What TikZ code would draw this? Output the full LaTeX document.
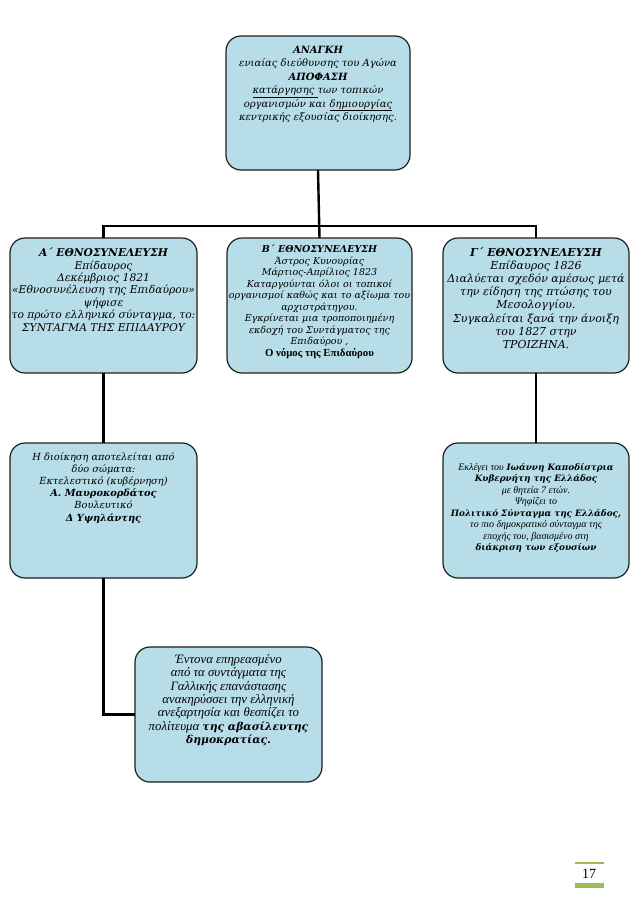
\documentclass[tikz,border=0pt]{standalone}
\usepackage{fontspec}
\setmainfont{DejaVu Serif}
\newfontfamily\tms{Liberation Serif}
\definecolor{boxfill}{RGB}{183,222,232}
\definecolor{boxline}{RGB}{30,30,30}
\definecolor{pggreen}{RGB}{155,187,89}
\tikzset{
  panel/.style={draw=boxline, line width=1.2pt, fill=boxfill, rounded corners=15pt, inner sep=0pt, outer sep=0pt, anchor=north west},
  conn/.style={draw=black, line width=2.4pt},
  txt/.style={anchor=north, align=center, inner sep=0pt},
}
\begin{document}
\begin{tikzpicture}[x=1pt,y=-1pt]
\useasboundingbox[fill=white] (0,0) rectangle (638,902);
% boxes
\node[panel, minimum width=184pt, minimum height=134pt] (T) at (226,36) {};
\node[panel, minimum width=187pt, minimum height=135pt] (A) at (10,238) {};
\node[panel, minimum width=185pt, minimum height=135pt] (B) at (227,238) {};
\node[panel, minimum width=186pt, minimum height=135pt] (C) at (443,238) {};
\node[panel, minimum width=187pt, minimum height=135pt] (L) at (10,443) {};
\node[panel, minimum width=186pt, minimum height=135pt] (R) at (443,443) {};
\node[panel, minimum width=187pt, minimum height=135pt] (D) at (135,647) {};
% connectors
\coordinate (hub) at (320,226);
\draw[conn] (T.south) -- (B.north);
\draw[conn] (A.north) -- (A.north |- hub) -- (C.north |- hub) -- (C.north);
\draw[conn] (A.south) -- (L.north);
\draw[conn] (L.south) |- (D.west);
\draw[conn] (C.south) -- (R.north);
% texts
\node[txt, font=\fontsize{10}{13.4}\selectfont\itshape] (tT) at (318,46) {%
\textbf{ΑΝΑΓΚΗ}\\
ενιαίας διεύθυνσης του Αγώνα\\
\textbf{ΑΠΟΦΑΣΗ}\\
\underline{κατάργησης }των  τοπικών\\
οργανισμών  και \underline{δημιουργίας}\\
κεντρικής εξουσίας διοίκησης.};
\node[txt, font=\fontsize{10.7}{12.4}\selectfont\itshape] (tA) at (103.5,248) {%
\textbf{Α΄ ΕΘΝΟΣΥΝΕΛΕΥΣΗ}\\
Επίδαυρος\\
Δεκέμβριος 1821\\
«Εθνοσυνέλευση της Επιδαύρου»\\
ψήφισε\\
το πρώτο ελληνικό σύνταγμα, το:\\
ΣΥΝΤΑΓΜΑ ΤΗΣ ΕΠΙΔΑΥΡΟΥ};
\node[txt, font=\fontsize{9.5}{11.5}\selectfont\itshape] (tB) at (319.5,245) {%
\textbf{Β΄ ΕΘΝΟΣΥΝΕΛΕΥΣΗ}\\
Άστρος Κυνουρίας\\
Μάρτιος-Απρίλιος 1823\\
Καταργούνται όλοι οι τοπικοί\\
οργανισμοί καθώς και το αξίωμα του\\
αρχιστράτηγου.\\
Εγκρίνεται  μια τροποποιημένη\\
εκδοχή του Συντάγματος της\\
Επιδαύρου ,\\
{\tms\upshape\bfseries\fontsize{10.8}{11.5}\selectfont Ο νόμος της Επιδαύρου}};
\node[txt, font=\fontsize{11}{13.2}\selectfont\itshape] (tC) at (536,247) {%
\textbf{Γ΄ ΕΘΝΟΣΥΝΕΛΕΥΣΗ}\\
Επίδαυρος 1826\\
Διαλύεται σχεδόν αμέσως μετά\\
την είδηση της πτώσης του\\
Μεσολογγίου.\\
Συγκαλείται  ξανά την άνοιξη\\
του 1827 στην\\
ΤΡΟΙΖΗΝΑ.};
\node[txt, font=\fontsize{9.8}{12.2}\selectfont\itshape] (tL) at (103.5,452) {%
Η διοίκηση αποτελείται από\\
δύο σώματα:\\
Εκτελεστικό (κυβέρνηση)\\
\textbf{Α. Μαυροκορδάτος}\\
Βουλευτικό\\
\textbf{Δ Υψηλάντης}};
\node[txt, font=\fontsize{8.8}{11.5}\selectfont\itshape] (tR) at (536,463) {%
{\tms\fontsize{10}{11.5}\selectfont Εκλέγει του} \textbf{Ιωάννη Καποδίστρια}\\
\textbf{Κυβερνήτη της Ελλάδος}\\
{\tms\fontsize{10}{11.5}\selectfont με θητεία 7 ετών.}\\
{\tms\fontsize{10}{11.5}\selectfont Ψηφίζει το}\\
\textbf{Πολιτικό Σύνταγμα της Ελλάδος,}\\
{\tms\fontsize{10}{11.5}\selectfont το πιο δημοκρατικό σύνταγμα της}\\
{\tms\fontsize{10}{11.5}\selectfont εποχής του, βασισμένο στη}\\
\textbf{διάκριση των εξουσίων}};
\node[txt, font=\tms\fontsize{12.8}{13.4}\selectfont\itshape] (tD) at (228.5,654) {%
Έντονα επηρεασμένο\\
από τα συντάγματα της\\
Γαλλικής επανάστασης\\
ανακηρύσσει  την ελληνική\\
ανεξαρτησία και θεσπίζει το\\
πολίτευμα {\rmfamily\bfseries\fontsize{10.8}{13.4}\selectfont της αβασίλευτης}\\
{\rmfamily\bfseries\fontsize{10.8}{13.4}\selectfont δημοκρατίας.}};
% page number
\node[inner sep=0pt, font=\tms\fontsize{14}{14}\selectfont] (pg) at (589,874) {17};
\draw[draw=pggreen, line width=1.5pt] (575,863) -- (604,863);
\fill[pggreen] (575,883) rectangle (604,888);
\end{tikzpicture}
\end{document}
